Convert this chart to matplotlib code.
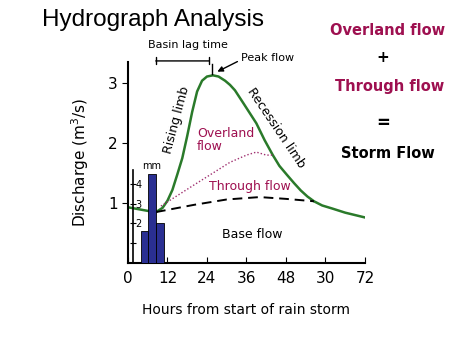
import matplotlib
matplotlib.use("Agg")
import matplotlib.pyplot as plt

# Storm hydrograph (hours, m3/s)
hours = [0, 3, 6, 8.5, 10.5, 12, 13.5, 15, 16.5, 18, 19.5, 21, 22.5, 24, 25.8,
         27.5, 29.5, 31, 32.5, 35, 37, 39, 41.5, 44, 46, 48.3, 50.5, 52.5,
         54.5, 56.5, 59, 62, 66, 72]
discharge = [0.93, 0.9, 0.87, 0.85, 0.92, 1.04, 1.22, 1.48, 1.75, 2.12, 2.52,
             2.86, 3.04, 3.11, 3.13, 3.11, 3.04, 2.97, 2.88, 2.67, 2.5, 2.33,
             2.05, 1.8, 1.62, 1.47, 1.33, 1.21, 1.11, 1.03, 0.96, 0.91, 0.84,
             0.76]

# Base flow (dashed) and the overland / through flow split (dotted)
base_hours = [8.5, 20, 30, 40, 48, 56.5]
base_flow = [0.85, 0.97, 1.06, 1.1, 1.07, 1.03]
split_hours = [10, 20, 31, 36, 39, 42, 44]
split_flow = [0.95, 1.3, 1.68, 1.8, 1.85, 1.8, 1.8]

# Rainfall bars (mm)
rain_hours = [5.0, 7.3, 9.7]
rain_mm = [1.6, 4.5, 2.0]

x_ticks = [0, 12, 24, 36, 48, 60, 72]
x_labels = ["0", "12", "24", "36", "48", "30", "72"]
y_ticks = [1, 2, 3]

green = "#2a7a2a"
maroon = "#9e1050"

fig = plt.figure(figsize=(4.74, 3.55), dpi=100)
ax = fig.add_axes([0.270, 0.259, 0.500, 0.566])

ax.plot(hours, discharge, color=green, lw=1.8)
ax.plot(base_hours, base_flow, color="black", lw=1.4, ls=(0, (5, 3)))
ax.plot(split_hours, split_flow, color="#a03070", lw=1, ls=(0, (1, 1.5)))

ax.set_xlim(0, 72)
ax.set_ylim(0, 3.35)
ax.spines[["top", "right"]].set_visible(False)
ax.spines[["left", "bottom"]].set_linewidth(1.5)
ax.set_xticks(x_ticks)
ax.set_xticklabels(x_labels, fontsize=11)
ax.set_yticks(y_ticks)
ax.set_yticklabels([str(v) for v in y_ticks], fontsize=11)
ax.tick_params(axis="x", direction="in", length=4, pad=6)
ax.tick_params(axis="y", direction="out", length=4)
ax.set_ylabel("Discharge (m$^3$/s)", fontsize=11, labelpad=12)
ax.set_xlabel("Hours from start of rain storm", fontsize=10, labelpad=12)

# Rainfall inset sitting on the main axis
rax = ax.inset_axes([1.4, 0, 11, 1.55], transform=ax.transData)
rax.bar(rain_hours, rain_mm, width=2.35, color="#2a2f92", edgecolor="black",
        lw=0.6)
rax.set_xlim(1.4, 12.4)
rax.set_ylim(0, 4.7)
rax.patch.set_alpha(0)
rax.spines[["top", "right", "bottom"]].set_visible(False)
rax.spines["left"].set_linewidth(1.2)
rax.set_xticks([])
rax.set_yticks([1, 2, 3, 4])
rax.set_yticklabels(["", "2", "3", "4"], fontsize=7)
rax.tick_params(axis="y", direction="inout", length=4, pad=-4)
for t in rax.get_yticklabels():
    t.set_ha("left")
ax.text(7.3, 1.62, "mm", ha="center", va="center", fontsize=7)

# Annotations on the chart
ax.annotate("", xy=(7.6, 3.37), xytext=(25.5, 3.37), annotation_clip=False,
            arrowprops=dict(arrowstyle="|-|, widthA=0.25, widthB=0.25",
                            lw=1, color="black"))
ax.plot([25.5, 25.5], [3.15, 3.32], color="black", lw=1, clip_on=False)
ax.annotate("", xy=(26.4, 3.17), xytext=(34, 3.38), annotation_clip=False,
            arrowprops=dict(arrowstyle="-|>", lw=1, color="black",
                            mutation_scale=8))
ax.text(14.8, 2.38, "Rising limb", rotation=75, ha="center", va="center",
        fontsize=9)
ax.text(44.9, 2.25, "Recession limb", rotation=-56, ha="center", va="center",
        fontsize=9)
ax.text(21, 2.05, "Overland\nflow", color=maroon, ha="left", va="center",
        fontsize=9, linespacing=1.0)
ax.text(37, 1.28, "Through flow", color=maroon, ha="center", va="center",
        fontsize=9)
ax.text(37.7, 0.47, "Base flow", ha="center", va="center", fontsize=9)

# Text around the chart
fig.text(0.322, 0.943, "Hydrograph Analysis", ha="center", va="center",
         fontsize=17.5, family="Liberation Sans")
fig.text(0.397, 0.873, "Basin lag time", ha="center", va="center", fontsize=8)
fig.text(0.565, 0.837, "Peak flow", ha="center", va="center", fontsize=8)

fig.text(0.818, 0.915, "Overland flow", color=maroon, ha="center",
         va="center", fontsize=10.5, fontweight="bold")
fig.text(0.808, 0.837, "+", ha="center", va="center", fontsize=11,
         fontweight="bold")
fig.text(0.822, 0.755, "Through flow", color=maroon, ha="center",
         va="center", fontsize=10.5, fontweight="bold")
fig.text(0.808, 0.653, "=", ha="center", va="center", fontsize=12,
         fontweight="bold")
fig.text(0.818, 0.569, "Storm Flow", ha="center", va="center",
         fontsize=10.5, fontweight="bold")

fig.savefig("out.png", dpi=100)
